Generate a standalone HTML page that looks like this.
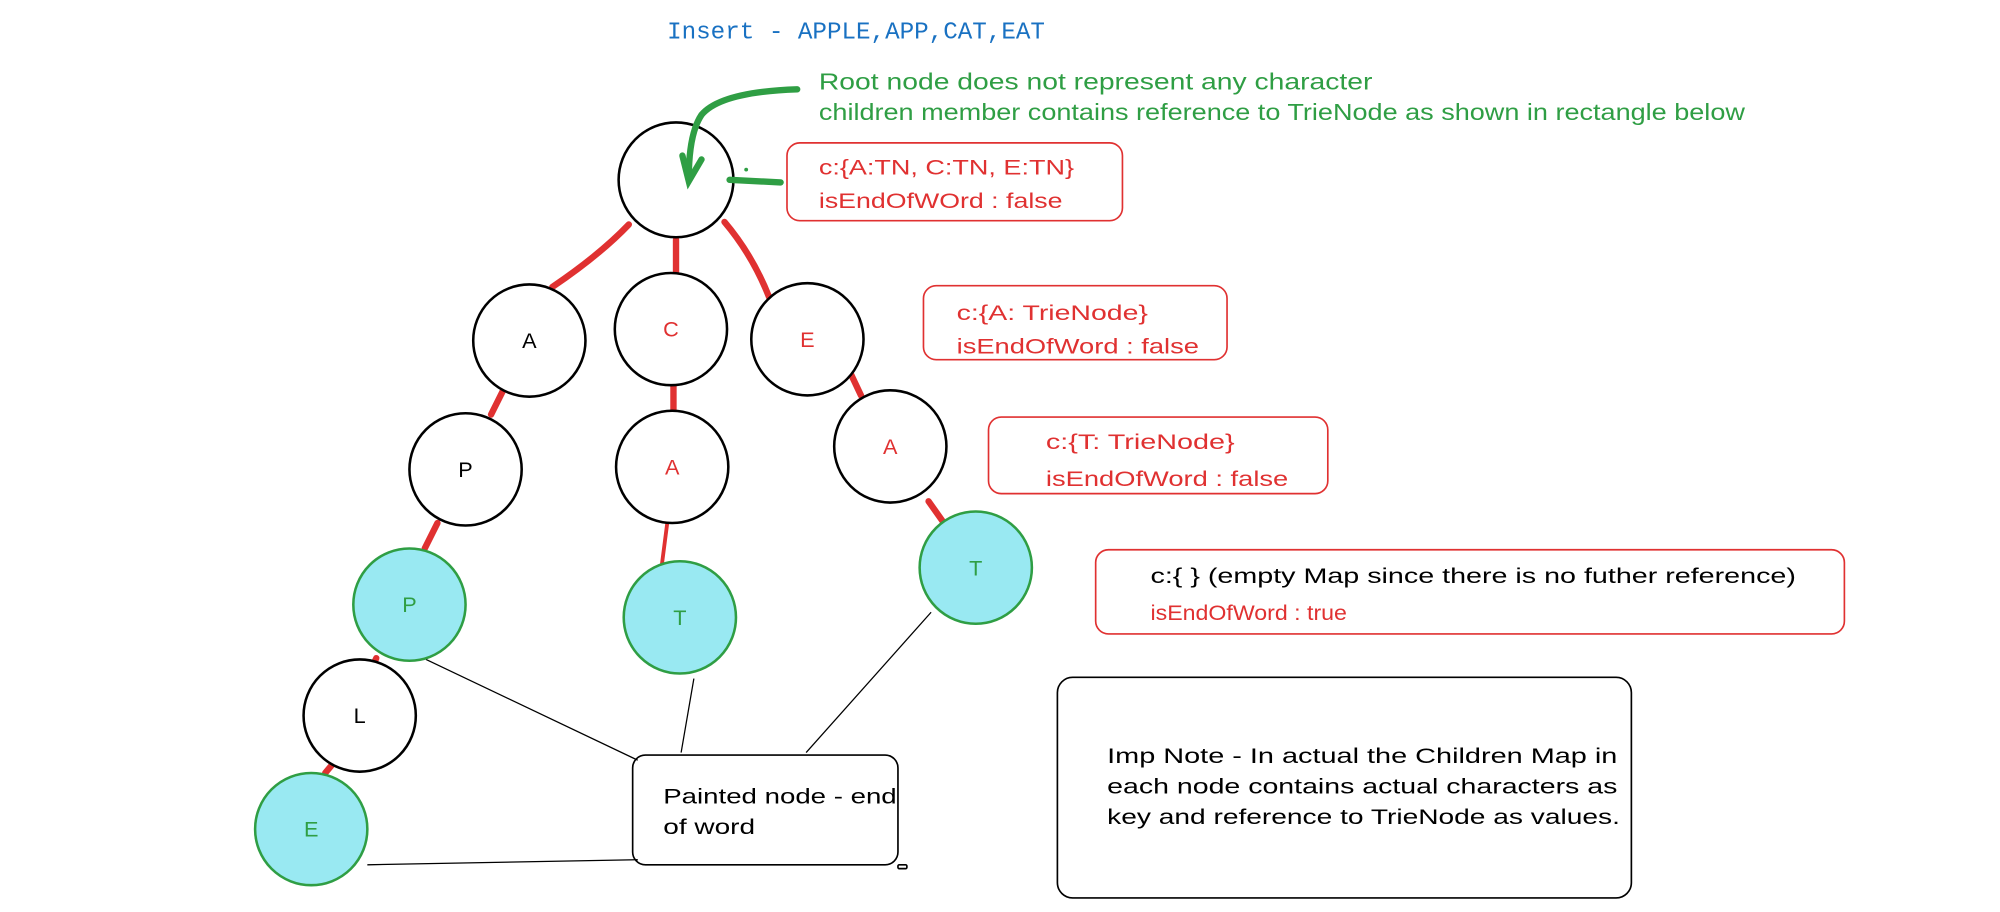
<!DOCTYPE html>
<html><head><style>html,body{margin:0;padding:0;background:#fff}svg{display:block}</style></head><body>
<svg width="2000" height="912" viewBox="0 0 1568 715" xmlns="http://www.w3.org/2000/svg" font-family="Liberation Sans, sans-serif">
<rect width="1568" height="715" fill="#fff"/>
<text x="523" y="30" font-family="Liberation Mono, monospace" font-size="19" fill="#1971c2">Insert - APPLE,APP,CAT,EAT</text>
<g fill="#2f9e44" font-size="18"><text x="642" y="70" textLength="434" lengthAdjust="spacingAndGlyphs">Root node does not represent any character</text><text x="642" y="94" textLength="726" lengthAdjust="spacingAndGlyphs">children member contains reference to TrieNode as shown in rectangle below</text></g>
<!-- red edges -->
<g stroke="#e03131" stroke-width="5" fill="none" stroke-linecap="round">
<path d="M493 176 Q470 200 433 225"/><path d="M530 188 L530 215"/><path d="M568 174 Q590 200 603 233"/>
<path d="M394 307 L385 325"/><path d="M528 300 L528 323"/><path d="M667 293 L675 310"/>
<path d="M343 410 L333 430"/><path d="M728 393 L740 410"/><path d="M295 516 L290 527"/><path d="M260 600 L255 606"/>
<path d="M523 411 L519 442" stroke-width="3"/>
</g>
<g stroke="#000" stroke-width="1" fill="none">
<line x1="334" y1="517" x2="500" y2="596"/><line x1="544" y1="532" x2="534" y2="590"/><line x1="730" y1="480" x2="632" y2="590"/><line x1="288" y1="678" x2="500" y2="674"/>
</g>
<!-- nodes -->
<g stroke="#000" stroke-width="2" fill="#fff">
<circle cx="530" cy="141" r="45"/><circle cx="415" cy="267" r="44"/><circle cx="526" cy="258" r="44"/><circle cx="633" cy="266" r="44"/>
<circle cx="365" cy="368" r="44"/><circle cx="527" cy="366" r="44"/><circle cx="698" cy="350" r="44"/><circle cx="282" cy="561" r="44"/>
</g>
<g stroke="#2f9e44" stroke-width="2" fill="#99e9f2">
<circle cx="321" cy="474" r="44"/><circle cx="533" cy="484" r="44"/><circle cx="765" cy="445" r="44"/><circle cx="244" cy="650" r="44"/>
</g>
<g font-size="17" text-anchor="middle">
<text x="415" y="273">A</text><text x="526" y="264" fill="#e03131">C</text><text x="633" y="272" fill="#e03131">E</text>
<text x="365" y="374">P</text><text x="527" y="372" fill="#e03131">A</text><text x="698" y="356" fill="#e03131">A</text>
<text x="321" y="480" fill="#2f9e44">P</text><text x="533" y="490" fill="#2f9e44">T</text><text x="765" y="451" fill="#2f9e44">T</text>
<text x="282" y="567">L</text><text x="244" y="656" fill="#2f9e44">E</text>
</g>
<!-- green arrow -->
<g stroke="#2f9e44" stroke-width="5" fill="none" stroke-linecap="round">
<path d="M625 70 Q565 72 550 90 Q540 105 540 140"/><path d="M535 122 L540 142 L550 125"/><path d="M572 141 L612 143"/>
</g>
<circle cx="585" cy="133" r="1.5" fill="#2f9e44"/>
<!-- boxes -->
<g fill="none" stroke="#e03131" stroke-width="1.3">
<rect x="617" y="112" width="263" height="61" rx="10"/><rect x="724" y="224" width="238" height="58" rx="10"/>
<rect x="775" y="327" width="266" height="60" rx="10"/><rect x="859" y="431" width="587" height="66" rx="10"/>
</g>
<g fill="#e03131" font-size="17" lengthAdjust="spacingAndGlyphs">
<text x="642" y="137" textLength="200" lengthAdjust="spacingAndGlyphs">c:{A:TN, C:TN, E:TN}</text><text x="642" y="163" textLength="191" lengthAdjust="spacingAndGlyphs">isEndOfWOrd : false</text>
<text x="750" y="251" textLength="150" lengthAdjust="spacingAndGlyphs">c:{A: TrieNode}</text><text x="750" y="277" textLength="190" lengthAdjust="spacingAndGlyphs">isEndOfWord : false</text>
<text x="820" y="352" textLength="148" lengthAdjust="spacingAndGlyphs">c:{T: TrieNode}</text><text x="820" y="381" textLength="190" lengthAdjust="spacingAndGlyphs">isEndOfWord : false</text>
<text x="902" y="486" textLength="154" lengthAdjust="spacingAndGlyphs">isEndOfWord : true</text>
</g>
<text x="902" y="457" font-size="17" textLength="506" lengthAdjust="spacingAndGlyphs">c:{ } (empty Map since there is no futher reference)</text>
<g fill="none" stroke="#000" stroke-width="1.3">
<rect x="496" y="592" width="208" height="86" rx="10"/><rect x="829" y="531" width="450" height="173" rx="12"/>
<rect x="704" y="678" width="7" height="3" rx="1"/>
</g>
<g font-size="17"><text x="520" y="630" textLength="183" lengthAdjust="spacingAndGlyphs">Painted node - end</text><text x="520" y="654" textLength="72" lengthAdjust="spacingAndGlyphs">of word</text>
<text x="868" y="598" textLength="400" lengthAdjust="spacingAndGlyphs">Imp Note - In actual the Children Map in</text><text x="868" y="622" textLength="400" lengthAdjust="spacingAndGlyphs">each node contains actual characters as</text><text x="868" y="646" textLength="402" lengthAdjust="spacingAndGlyphs">key and reference to TrieNode as values.</text></g>
</svg>
</body></html>
